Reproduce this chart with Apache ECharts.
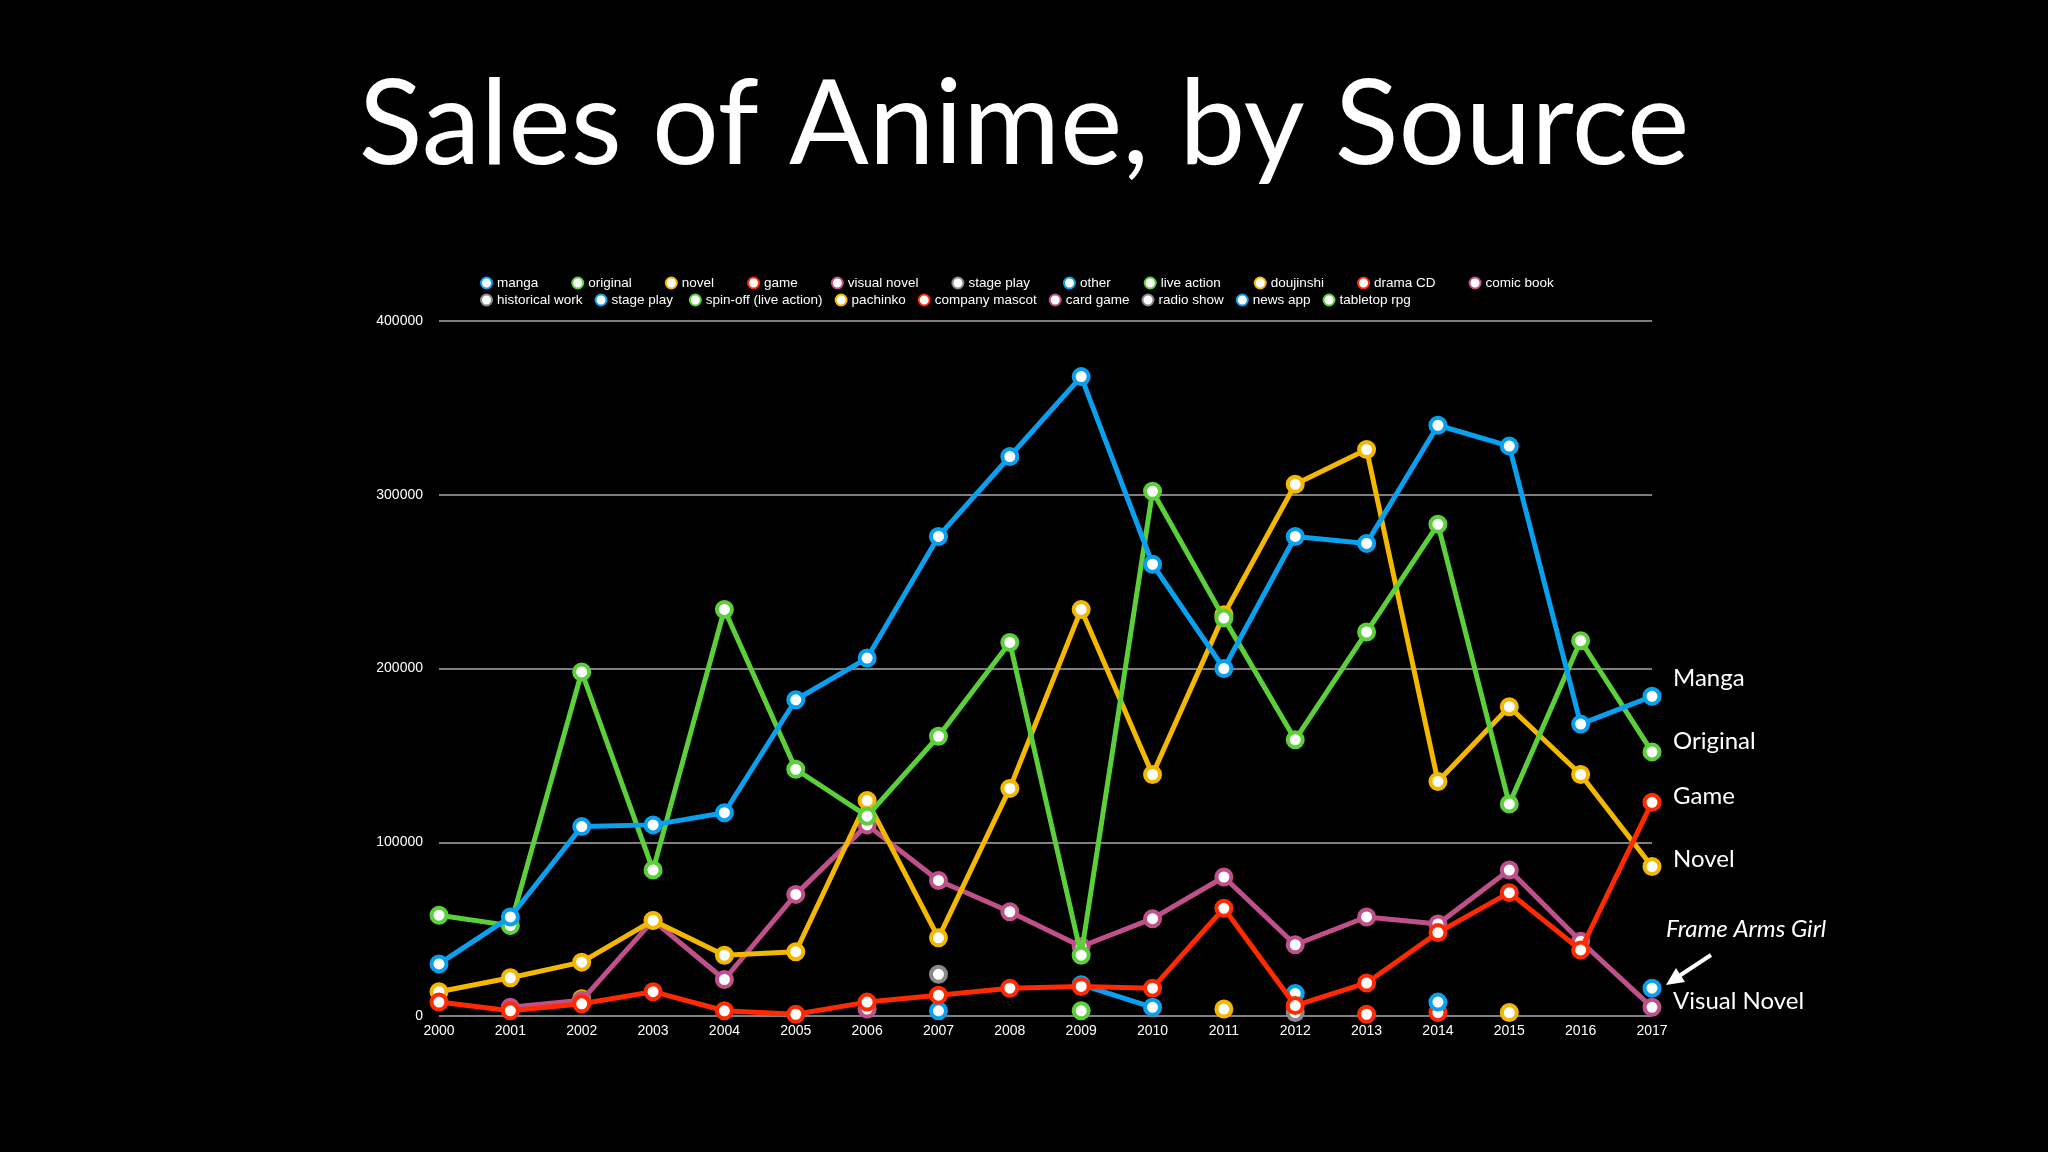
<!DOCTYPE html>
<html><head><meta charset="utf-8">
<script src="https://cdn.jsdelivr.net/npm/echarts@6/dist/echarts.min.js"></script>
<style>html,body{margin:0;background:#000}#c{width:2048px;height:1152px}</style>
</head><body><div id="c"></div>
<script>
const years = ['2000','2001','2002','2003','2004','2005','2006','2007','2008','2009','2010','2011','2012','2013','2014','2015','2016','2017'];
const yTicks = [0,100000,200000,300000,400000];
const N = null;
const manga = [30000,57000,109000,110000,117000,182000,206000,276000,322000,368000,260000,200000,276000,272000,340000,328000,168000,184000];
const original = [58000,52000,198000,84000,234000,142000,115000,161000,215000,35000,302000,229000,159000,221000,283000,122000,216000,152000];
const novel = [14000,22000,31000,55000,35000,37000,124000,45000,131000,234000,139000,231000,306000,326000,135000,178000,139000,86000];
const game = [8000,3000,7000,14000,3000,1000,8000,12000,16000,17000,16000,62000,6000,19000,48000,71000,38000,123000];
const visualNovel = [N,5000,9000,55000,21000,70000,110000,78000,60000,40000,56000,80000,41000,57000,53000,84000,43000,5000];
const stagePlay = [N,N,N,N,N,N,N,24000,N,N,N,N,2000,N,N,N,N,N];
const other = [N,N,N,N,N,N,N,N,N,18000,5000,N,N,N,N,N,N,16000];
const liveAction = [N,N,N,N,N,N,N,N,N,3000,N,N,N,N,N,N,N,N];
const doujinshi = [N,N,N,N,N,N,N,N,N,N,N,4000,N,N,N,N,N,N];
const dramaCD = [N,N,N,N,N,N,N,N,N,N,N,N,N,1000,N,N,N,N];
const comicBook = [N,N,N,N,N,N,4000,N,N,N,N,N,N,N,N,N,N,N];
const stagePlay2 = [N,N,N,N,N,N,N,3000,N,N,N,N,13000,N,N,N,N,N];
const pachinko = [N,N,10000,N,N,N,N,N,N,N,N,N,N,N,N,2000,N,N];
const companyMascot = [N,N,N,N,N,N,N,N,N,N,N,N,N,N,2000,N,N,N];
const newsApp = [N,N,N,N,N,N,N,N,N,N,N,N,N,N,8000,N,N,N];
const empty = years.map(()=>N);

const B='#0aa0f0',G='#5cd03a',Y='#f5b800',R='#ff2a00',P='#c0508a',GR='#8a8a8a';
const defs = [
 ['manga',B,manga],['original',G,original],['novel',Y,novel],['game',R,game],['visual novel',P,visualNovel],
 ['stage play',GR,stagePlay],['other',B,other],['live action',G,liveAction],['doujinshi',Y,doujinshi],['drama CD',R,dramaCD],['comic book',P,comicBook],
 ['historical work',GR,empty],['stage play ',B,stagePlay2],['spin-off (live action)',G,empty],['pachinko',Y,pachinko],['company mascot',R,companyMascot],
 ['card game',P,empty],['radio show',GR,empty],['news app',B,newsApp],['tabletop rpg',G,empty]
];
const series = defs.map(([n,c,d],i)=>({
  name:n,type:'line',data:d,z:i<5?(10-i):3,color:c,
  symbol:'circle',symbolSize:15,showSymbol:true,connectNulls:false,
  lineStyle:{width:5,color:c},itemStyle:{color:'#fff',borderColor:c,borderWidth:4},
  emphasis:{disabled:true}
}));
series[3].z=11;
const lg = (names,top,gap)=>({data:names.map(n=>({name:n,icon:'circle'})),top,left:475,itemWidth:11,itemHeight:11,itemGap:gap,
  textStyle:{color:'#fff',fontSize:13.5,fontFamily:'Liberation Sans'},selectedMode:false});
const chart = echarts.init(document.getElementById('c'));
const txt=(t,x,y,it)=>({type:'text',left:x,top:y,style:{text:t,fill:'#fff',font:(it?'italic ':'')+'24px "Lato"'}});
chart.setOption({
  backgroundColor:'#000',animation:false,
  title:{text:'Sales of Anime, by Source',left:'center',top:62,textStyle:{color:'#fff',fontSize:118,fontWeight:'normal',fontFamily:'Lato'}},
  legend:[lg(defs.slice(0,11).map(d=>d[0]),271,33),lg(defs.slice(11).map(d=>d[0]),288,12)],
  grid:{left:439,right:396,top:321,bottom:136},
  xAxis:{type:'category',data:years,boundaryGap:false,axisLine:{show:false},axisTick:{show:false},
    axisLabel:{color:'#fff',fontSize:14,margin:8,fontFamily:'Liberation Sans'}},
  yAxis:{type:'value',min:0,max:400000,interval:100000,
    axisLabel:{color:'#fff',fontSize:14,margin:16,fontFamily:'Liberation Sans',formatter:v=>yTicks.includes(v)?String(v):''},
    splitLine:{lineStyle:{color:'#aaa',width:1.5}}},
  series,
  graphic:[txt('Manga',1673,666),txt('Original',1673,729),txt('Game',1673,784),txt('Novel',1673,847),
    txt('Frame Arms Girl',1666,917,true),txt('Visual Novel',1673,989),
    {type:'line',shape:{x1:1711,y1:955,x2:1676,y2:978},style:{stroke:'#fff',lineWidth:4}},
    {type:'polygon',shape:{points:[[1666,985],[1676,968],[1685,982]]},style:{fill:'#fff'}}]
});
</script></body></html>
